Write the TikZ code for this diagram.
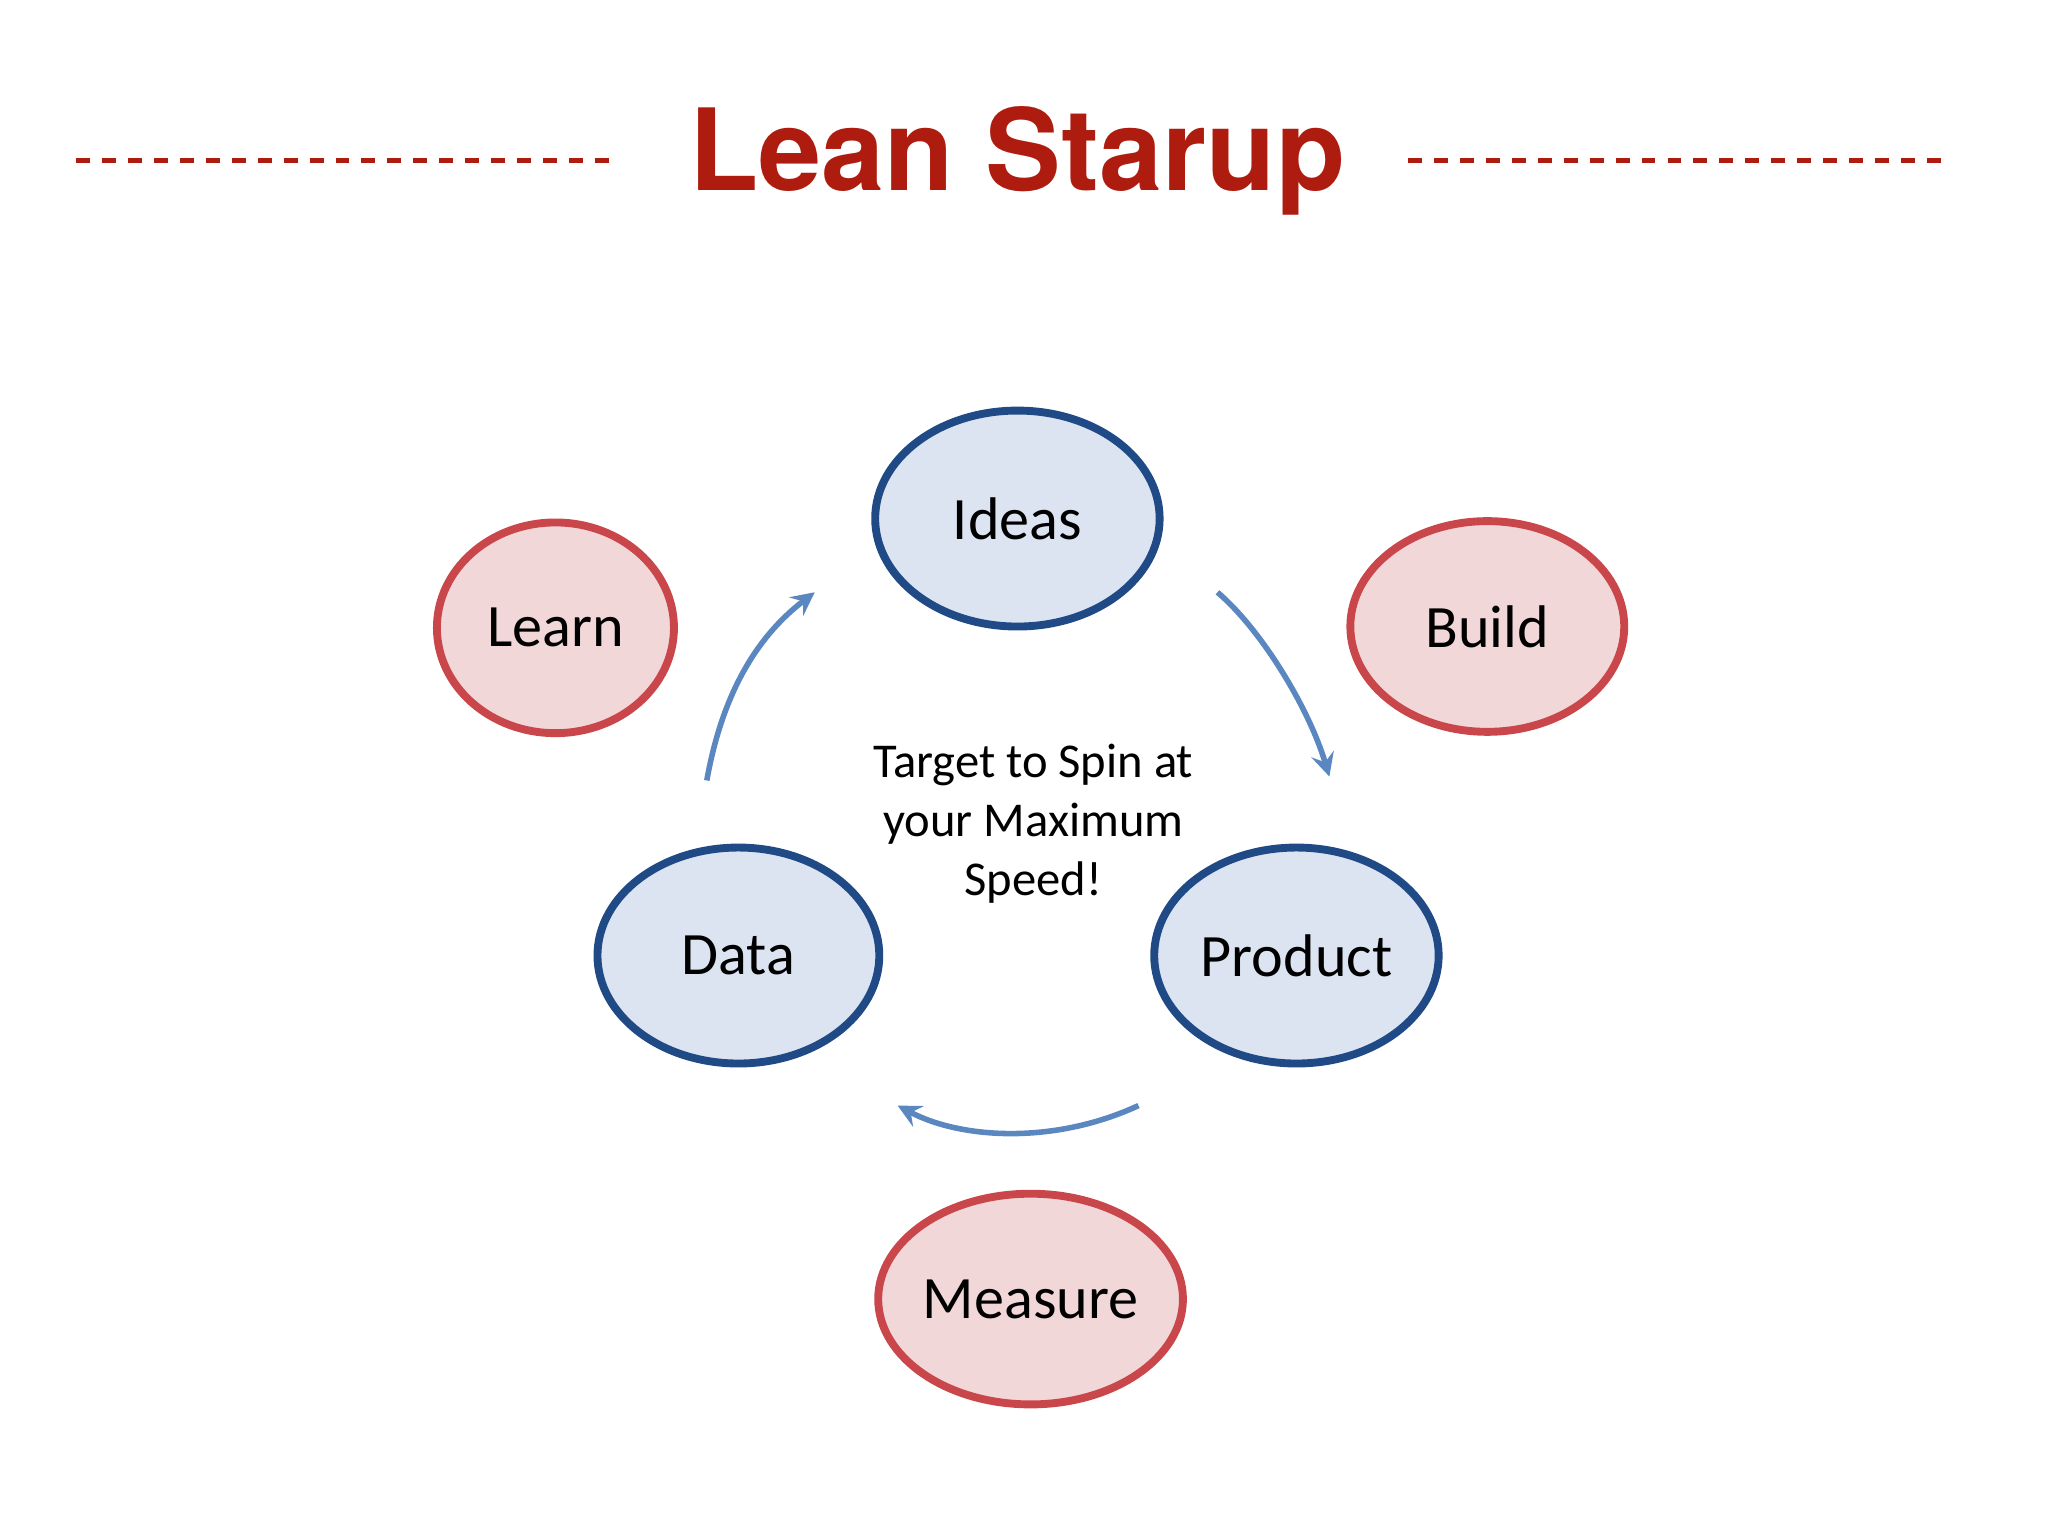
\documentclass[tikz,border=0pt]{standalone}
\usepackage{fontspec}
\setmainfont{Carlito}
\newfontfamily\titlefont{TeX Gyre Heros}
\usetikzlibrary{shapes.geometric,positioning}
\definecolor{titlered}{HTML}{AE1C10}
\definecolor{blueline}{HTML}{1F4A86}
\definecolor{bluefill}{HTML}{DCE4F2}
\definecolor{redline}{HTML}{C9464B}
\definecolor{redfill}{HTML}{F2D7D8}
\definecolor{arrowblue}{HTML}{5B87C0}
\tikzset{
  stage/.style={ellipse, draw=blueline, fill=bluefill, line width=1.7pt, inner sep=0pt, font=\fontsize{13}{15}\selectfont},
  action/.style={ellipse, draw=redline, fill=redfill, line width=1.7pt, inner sep=0pt, font=\fontsize{13}{15}\selectfont},
  flow/.style={draw=arrowblue, line width=1.2pt, -stealth},
  rule/.style={draw=titlered, line width=1.2pt, dash pattern=on 3pt off 2.6pt}
}
\begin{document}
\begin{tikzpicture}[x=0.01cm,y=-0.01cm]
  \useasboundingbox (0,0) rectangle (1556,1168);
  % title
  \node (title) at (773,122) {\titlefont\bfseries\fontsize{24.5}{28}\selectfont\color{titlered}Lean Starup};
  \draw [rule] (58,122) -- (470,122);
  \draw [rule] (1070,122) -- (1483,122);
  % loop
  \node [stage, minimum width=2.16cm, minimum height=1.64cm] (ideas) at (773,394) {Ideas};
  \node [stage, minimum width=2.14cm, minimum height=1.64cm] (data) at (561,726) {Data};
  \node [stage, minimum width=2.16cm, minimum height=1.64cm] (product) at (985,726) {Product};
  \node [action, minimum width=1.8cm, minimum height=1.6cm] (learn) at (422,477) {Learn};
  \node [action, minimum width=2.08cm, minimum height=1.6cm] (build) at (1130,476) {Build};
  \node [action, minimum width=2.26cm, minimum height=1.6cm] (measure) at (783,987) {Measure};
  \node [align=center, font=\fontsize{10.5}{12.8}\selectfont] (target) at (785,626) {Target to Spin at\\your Maximum\\Speed!};
  % arrows
  \coordinate (a1) at (537,593); \coordinate (b1) at (619,450);
  \coordinate (a2) at (925,450); \coordinate (b2) at (1010,590);
  \coordinate (a3) at (865,840); \coordinate (b3) at (682,840);
  \draw [flow] (a1) .. controls (550,520) and (580,480) .. (b1);
  \draw [flow] (a2) .. controls (960,480) and (995,540) .. (b2);
  \draw [flow] (a3) .. controls (800,870) and (730,865) .. (b3);
\end{tikzpicture}
\end{document}
